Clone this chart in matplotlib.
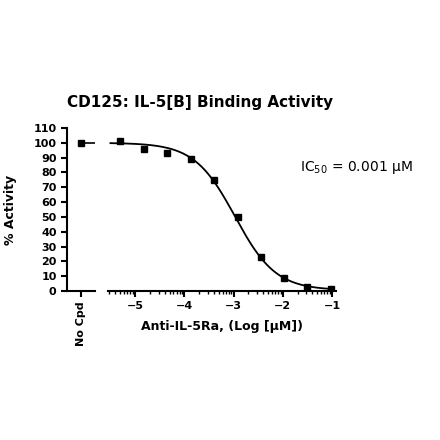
import numpy as np
import matplotlib.pyplot as plt
from matplotlib.ticker import FixedLocator

# data
log_conc = [-5.3, -4.82, -4.35, -3.87, -3.4, -2.92, -2.44, -1.97, -1.5, -1.02]
activity = [101, 96, 93, 89, 75, 50, 23, 9, 3, 1.5]
errs = [2, 2, 1.5, 1, 1, 1, 1, 1, 1, 1]
nocpd_val = 100
# 4PL fit parameters
top, bottom, logic50, hill = 100, 0.5, -2.97, 1.05

fig = plt.figure(figsize=(4.4, 4.4), dpi=100)
W = H = 440.0
y0, y1 = 291, 128
axl = fig.add_axes([67/W, 1-y0/H, 28/W, (y0-y1)/H])
axr = fig.add_axes([108/W, 1-y0/H, 228/W, (y0-y1)/H])

for ax in (axl, axr):
    ax.set_ylim(0, 110)
    for s in ('top', 'right'):
        ax.spines[s].set_visible(False)
    ax.spines['bottom'].set_linewidth(1.5)
    ax.spines['left'].set_linewidth(1.5)
    ax.tick_params(width=1.5, length=4, labelsize=8)

axl.set_xlim(0, 1)
axl.plot([0.5, 1.0], [nocpd_val, nocpd_val], color='black', lw=1.2)
axl.plot([0.5], [nocpd_val], 's', color='black', ms=4.5)
axl.set_xticks([0.5])
axl.set_xticklabels(['No Cpd'], rotation=90, fontweight='bold')
axl.set_yticks(range(0, 111, 10))
for t in axl.get_yticklabels():
    t.set_fontweight('bold')
axl.set_ylabel('% Activity', fontweight='bold', fontsize=9, labelpad=12)

axr.spines['left'].set_visible(False)
axr.tick_params(axis='y', left=False, labelleft=False)
axr.set_xlim(-5.55, -0.92)
axr.set_xticks([-5, -4, -3, -2, -1])
for t in axr.get_xticklabels():
    t.set_fontweight('bold')
minor = [d + np.log10(k) for d in range(-6, -1) for k in range(2, 10)]
minor = [m for m in minor if -5.55 <= m <= -1]
axr.xaxis.set_minor_locator(FixedLocator(minor))
axr.tick_params(axis='x', which='minor', length=2.5, width=1)

xs = np.linspace(-5.5, -1, 300)
ys = bottom + (top - bottom) / (1 + 10 ** ((xs - logic50) * hill))
axr.plot(xs, ys, color='black', lw=1.3)
axr.errorbar(log_conc, activity, yerr=errs, fmt='s', color='black', ms=4.5,
             capsize=0, elinewidth=1)
axr.set_xlabel('Anti-IL-5Ra, (Log [µM])', fontweight='bold', fontsize=9, labelpad=6)

fig.text(200/W, 1-102/H, 'CD125: IL-5[B] Binding Activity', ha='center', va='center',
         fontsize=11, fontweight='bold')
fig.text(300/W, 1-167/H, r'IC$_{50}$ = 0.001 µM', ha='left', va='center', fontsize=10)

fig.savefig('out.png', dpi=100)
